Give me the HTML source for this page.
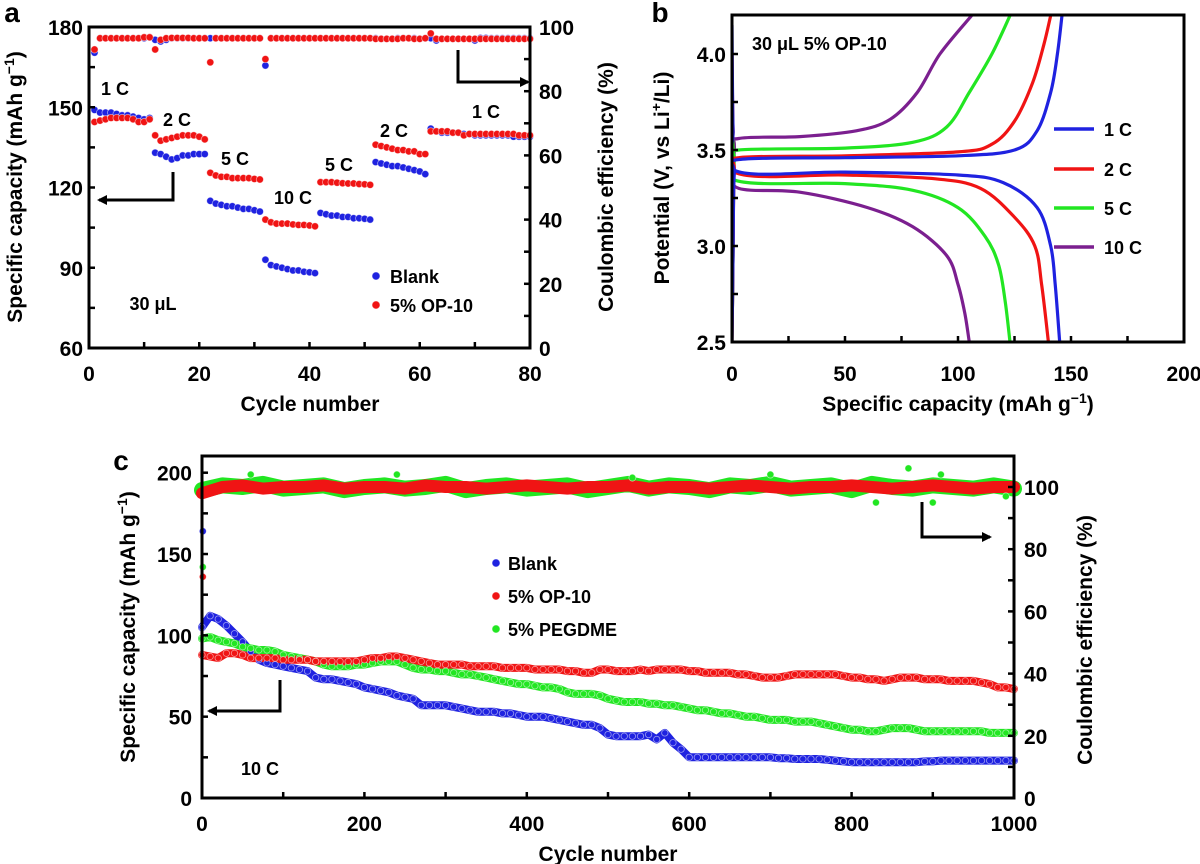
<!DOCTYPE html>
<html><head><meta charset="utf-8">
<style>
html,body{margin:0;padding:0;background:#fff;}
svg{display:block;font-family:"Liberation Sans",Arial,sans-serif;font-weight:bold;}
</style></head>
<body>
<svg id="fig" width="1200" height="864" viewBox="0 0 1200 864" xmlns="http://www.w3.org/2000/svg">
<defs>
<marker id="ah" markerWidth="10" markerHeight="10" refX="8" refY="5" orient="auto" markerUnits="userSpaceOnUse"><path d="M0,0 L10,5 L0,10 Z" fill="#000"/></marker>
</defs>
<g id="gA"></g>
<g id="gB"></g>
<g id="gC"></g>
</svg>
<script>
// ---------- Panel a data ----------
const aCycles = Array.from({length:80},(_, i)=>i+1);
const aBlankCap = [149,148,148,148,147.5,147,147,146.5,146,145.5,146,
 133,132.5,131.5,130.5,131,132,132,132.5,132.5,132.5,
 115,114,113.5,113,113,112.5,112,112,111.5,111,
 93,91,90.5,90,89.5,89,89,88.5,88.3,88,
 110.5,110,109.5,109.5,109,109,108.5,108.5,108.3,108,
 129.5,129,128.5,128,128,127.5,127,126.5,126,125,
 142,141,140.5,140.5,140.5,140.5,140,140,139.5,139.5,139.5,139.5,139.5,139.5,139.5,139,139,139,139];
const aOpCap = [144.5,145,145.5,146,146,146,146,145.5,144.5,144.5,145.5,
 139.5,137.5,138,138.5,139,139.5,139.5,139.5,139,138,
 125.5,124.5,124,124,123.5,123.5,123.5,123.5,123.2,123,
 108,107,106.5,106.5,106.5,106.2,106,106,105.8,105.5,
 122,122,122,121.8,121.6,121.5,121.5,121.3,121.2,121,
 136,135.5,135,134.5,134,134,133.5,133.5,132.5,132.5,
 141,141,141,141,140.5,140.5,139.5,140,140,140,140,140,140,140,140,140,139.5,139.5,139.5];
const aBlankCE = [92,96.5,96.5,96.5,96.5,96.5,96.5,96.5,96.5,96.5,96.8,
 96,95.5,96,96.5,96.5,96.5,96.5,96.5,96.5,96.5,
 96.5,96.5,96.5,96.5,96.5,96.5,96.5,96.5,96.5,96.5,
 88,96.5,96.5,96.5,96.5,96.5,96.5,96.5,96.5,96.5,
 96.5,96.5,96.5,96.5,96.5,96.5,96.5,96.5,96.5,96.5,
 96.5,96.3,96.3,96.3,96.5,96.5,96.5,96.5,96.3,96.5,
 96.5,95.8,96.3,96.3,96.3,96.3,96.3,96.3,95.8,96.6,96.6,96.5,96.5,96.5,96.5,96.5,96.5,96.5,96.5];
const aOpCE = [93,96.5,96.5,96.5,96.5,96.5,96.5,96.5,96.5,96.8,96.8,
 93,96,96.5,96.6,96.6,96.6,96.6,96.5,96.5,96.5,
 89,96.5,96.5,96.5,96.5,96.5,96.5,96.5,96.5,96.5,
 90,96.5,96.5,96.5,96.5,96.5,96.5,96.5,96.5,96.5,
 96.5,96.5,96.5,96.5,96.5,96.5,96.5,96.5,96.5,96.5,
 96.3,96.3,96.3,96.3,96.3,96.5,96.5,96.3,96.3,96.5,
 98,96.3,96.3,96.3,96.3,96.3,96.3,96.3,96.3,96.3,96.3,96.3,96.3,96.3,96.3,96.3,96.3,96.3,96.3];
const aXTicks=[0,20,40,60,80], aYTicks=[60,90,120,150,180], aY2Ticks=[0,20,40,60,80,100];

// ---------- Panel b data ----------
const bRates=["1 C","2 C","5 C","10 C"];
const bChargeCap=[[0,0.5,1,3,50,100,125,135,141,144,146],
                  [0,0.5,1,3,50,100,115,125,133,138,141],
                  [0,0.5,1,3,50,80,95,105,115,123],
                  [0,0.5,1,3,30,55,70,82,92,106]];
const bChargeV=[[2.5,3.0,3.38,3.45,3.46,3.47,3.5,3.6,3.8,4.0,4.2],
                [2.5,3.0,3.4,3.46,3.47,3.49,3.53,3.65,3.85,4.05,4.2],
                [2.5,3.0,3.45,3.5,3.51,3.54,3.62,3.8,4.0,4.2],
                [2.5,3.0,3.5,3.56,3.57,3.6,3.66,3.8,4.0,4.2]];
const bDisCap=[[0,0.5,2,50,100,120,135,141,143,145],
               [0,0.5,2,50,90,110,125,134,137,140],
               [0,0.5,2,50,80,100,112,118,121,123],
               [0,0.5,3,30,60,80,95,100,103,105]];
const bDisV=[[4.15,3.6,3.39,3.385,3.37,3.33,3.2,3.0,2.8,2.5],
             [4.0,3.6,3.38,3.37,3.35,3.3,3.15,3.0,2.8,2.5],
             [3.7,3.5,3.34,3.325,3.29,3.2,3.05,2.9,2.7,2.5],
             [3.6,3.4,3.3,3.28,3.2,3.1,2.95,2.8,2.65,2.5]];
const bXTicks=[0,50,100,150,200], bYTicks=[2.5,3.0,3.5,4.0];

// ---------- Panel c data (every 10 cycles, 0..1000) ----------
const cCycles = Array.from({length:101},(_, i)=>i*10);
const cBlankCap=[105,112,110,106,101,96,90,85,83,82,81,80,79,78,74,73,73,72,71,70,68,67,66,65,63,62,61,57,57,57,57,56,55,54,53,53,53,52,52,51,50,50,50,49,48,47,46,45,45,43,39,38,38,38,38,39,36,40,34,30,25,25,25,25,25,25,25,25,25,25,25,24.5,24.5,24,24,24,24,23.5,23,22.5,22,22,22,22,22,22,22,22,22,22.5,22.5,23,23,23,23,23,23,23,23,23,23];
const cOpCap=[88,87,86,89,89,88,86,86,86,86,85,85,85,85,84,84,84,84,84,84,85,86,86,87,87,86,85,84,83,82,82,82,82,81,81,81,81,80,80,80,80,79,79,79,79,78,78,77,77,79,79,78,78,78,79,78,79,79,79,79,78,78,77,77,77,77,76,76,75,74,74,74,75,76,76,76,76,76,76,75,74,74,73,73,72,73,74,74,74,73,73,73,72,72,72,72,71,70,68,68,67];
const cPegCap=[98,99,97,96,95,93,92,91,91,90,88,87,86,85,84,82,81,81,81,82,82,83,84,84,84,82,80,79,79,78,78,77,76,76,75,74,73,72,71,70,70,69,68,68,67,65,64,64,64,63,61,60,59,59,59,58,58,57,57,56,55,54,54,53,52,52,51,50,50,49,48,48,48,47,47,47,46,45,44,43,42,42,41,41,42,43,43,43,42,41,41,41,41,41,41,41,41,40,40,40,40];
const cFirst=[164,136,142]; // cycle-1 capacities: Blank, OP-10, PEGDME
const cCECycles = Array.from({length:41},(_, i)=>i*25);
const cOpCE=[98,100,100.5,99.5,100,100,100.5,99.5,100,100,99.5,100.5,100,100,99.5,100,100.5,100,99.5,100,100,100.5,99.5,100,100,99.5,100,100.5,100,99.5,100,100,100.5,100,99.5,100,100.5,100,99.5,100,100];
const cPegCE=[99,100.5,100,101,99.5,100,100.5,99,100,100.5,99.5,100,101,99,100,100.5,99.5,100,100.5,99,100,101,99.5,100.5,100,99,100.5,100,101,99.5,100,100.5,99,101,100,99.5,100.5,100,99.5,100.5,99.5];
const cBlankCE=[99,100,100,100,100,100,100,100,100,100,100,100,100,100,100,100,100,100,100,100,100,100,100,101,99,100,100,100,100,100,100,100,100,100,100,100,100,100,100,100,100];
const cPegOutX=[60,240,530,700,830,870,900,910,990];
const cPegOutY=[104,104,103,104,95,106,95,104,97];
const cXTicks=[0,200,400,600,800,1000], cYTicks=[0,50,100,150,200], cY2Ticks=[0,20,40,60,80,100];

// ---------- helpers ----------
const NS="http://www.w3.org/2000/svg";
function mk(parent,tag,attrs){const e=document.createElementNS(NS,tag);for(const k in attrs)e.setAttribute(k,attrs[k]);parent.appendChild(e);return e;}
function txt(parent,x,y,s,size,anchor,rot){const t=mk(parent,"text",{x:x,y:y,"font-size":size,"text-anchor":anchor||"middle"});if(rot)t.setAttribute("transform","rotate(-90 "+x+" "+y+")");t.textContent=s;return t;}
function lin(d0,d1,p0,p1){return v=>p0+(v-d0)*(p1-p0)/(d1-d0);}
function frame(g,L,T,R,B){const r=mk(g,"rect",{x:L,y:T,width:R-L,height:B-T,fill:"none",stroke:"#000","stroke-width":3});}
function ticksX(g,sx,from,to,step,B,len){for(let v=from;v<=to+1e-9;v+=step){const x=sx(v);mk(g,"line",{x1:x,x2:x,y1:B,y2:B-len,stroke:"#000","stroke-width":2.5});}}
function ticksY(g,sy,from,to,step,X,len){for(let v=from;v<=to+1e-9;v+=step){const y=sy(v);mk(g,"line",{x1:X,x2:X+len,y1:y,y2:y,stroke:"#000","stroke-width":2.5});}}
function dot(g,x,y,r,c,name){const d=mk(g,"circle",{cx:x,cy:y,r:r,fill:c,stroke:"rgba(255,255,255,0.55)","stroke-width":0.8});return d;}
function arrow(g,pts,name){const p=mk(g,"polyline",{points:pts.map(q=>q.join(",")).join(" "),fill:"none",stroke:"#000","stroke-width":3,"marker-end":"url(#ah)"});}
function smooth(P){ // Catmull-Rom through points
 let d="M"+P[0][0].toFixed(1)+","+P[0][1].toFixed(1);
 for(let i=0;i<P.length-1;i++){const p0=P[i-1]||P[i],p1=P[i],p2=P[i+1],p3=P[i+2]||P[i+1];
  const c1=[p1[0]+(p2[0]-p0[0])/6,p1[1]+(p2[1]-p0[1])/6],c2=[p2[0]-(p3[0]-p1[0])/6,p2[1]-(p3[1]-p1[1])/6];
  d+="C"+c1[0].toFixed(1)+","+c1[1].toFixed(1)+" "+c2[0].toFixed(1)+","+c2[1].toFixed(1)+" "+p2[0].toFixed(1)+","+p2[1].toFixed(1);}
 return d;}

const BLUE="#1f22e0",RED="#f01414",GREEN="#22e622",PURPLE="#7b1f8f";

// ---------- Panel a ----------
(function(){
 const g=document.getElementById("gA");
 const L=89,R=530,T=27,B=348;
 const sx=lin(0,80,L,R), sy=lin(60,180,B,T), sy2=lin(0,100,B,T);
 txt(g,12,22,"a",28,"middle");
 aCycles.forEach((c,i)=>{
  dot(g,sx(c),sy2(aBlankCE[i]),3.6,BLUE,'ce-blank-point');
  dot(g,sx(c),sy(aBlankCap[i]),3.6,BLUE,'capacity-blank-point');
 });
 aCycles.forEach((c,i)=>{
  dot(g,sx(c),sy2(aOpCE[i]),3.6,RED,'ce-op10-point');
  dot(g,sx(c),sy(aOpCap[i]),3.6,RED,'capacity-op10-point');
 });
 frame(g,L,T,R,B);
 ticksX(g,sx,0,80,10,B,6);
 ticksY(g,sy,60,180,15,L,6); ticksY(g,sy2,0,100,10,R-6,6);
 aXTicks.forEach(v=>txt(g,sx(v),381,v,21,"middle"));
 aYTicks.forEach(v=>txt(g,L-6,sy(v)+8,v,21,"end"));
 aY2Ticks.forEach(v=>txt(g,R+9,sy2(v)+8,v,21,"start"));
 txt(g,310,411,"Cycle number",21,"middle");
 const yt=txt(g,22,187,"",21,"middle",true);yt.innerHTML='Specific capacity (mAh g<tspan dy="-8" font-size="14">−1</tspan><tspan dy="8">)</tspan>';
 
 txt(g,613,187,"Coulombic efficiency (%)",21,"middle",true);
 [["1 C",115,95],["2 C",177,126],["5 C",235,165],["10 C",293,204],["5 C",339,171],["2 C",394,137],["1 C",486,118]].forEach(a=>txt(g,a[1],a[2],a[0],18,"middle"));
 txt(g,153,310,"30 μL",18,"middle");
 dot(g,376,276,4,BLUE,'legend-blank-marker'); txt(g,390,283,"Blank",18,"start");
 dot(g,376,305,4,RED,'legend-op10-marker'); txt(g,390,312,"5% OP-10",18,"start");
 arrow(g,[[173,172],[173,200],[99,200]],'left-axis-arrow');
 arrow(g,[[458,50],[458,82],[528,82]],'right-axis-arrow');
})();

// ---------- Panel b ----------
(function(){
 const g=document.getElementById("gB");
 const L=732,R=1184,T=15,B=342;
 const sx=lin(0,200,L,R), sy=lin(2.5,4.0,B,54);
 const cols=[BLUE,RED,GREEN,PURPLE];
 txt(g,660,22,"b",28,"middle");
 const cp=mk(g,"clipPath",{id:"clipB"});mk(cp,"rect",{x:L,y:T,width:R-L,height:B-T});
 const pg=mk(g,"g",{"clip-path":"url(#clipB)"});
 function path(xs,ys){return smooth(xs.map((x,i)=>[sx(x),sy(ys[i])]));}
 for(let k=3;k>=0;k--){
  const p1=mk(pg,"path",{d:path(bChargeCap[k],bChargeV[k]),fill:"none",stroke:cols[k],"stroke-width":3.2,"stroke-linejoin":"round"});
  
  
  const p2=mk(pg,"path",{d:path(bDisCap[k],bDisV[k]),fill:"none",stroke:cols[k],"stroke-width":3.2,"stroke-linejoin":"round"});
  
  
 }
 frame(g,L,T,R,B);
 ticksX(g,sx,0,200,25,B,6);
 ticksY(g,sy,2.5,4.0,0.25,L,6);
 bXTicks.forEach(v=>txt(g,sx(v),381,v,21,"middle"));
 bYTicks.forEach(v=>txt(g,L-6,sy(v)+8,v.toFixed(1),21,"end"));
 const xt=txt(g,958,411,"",21,"middle");xt.innerHTML='Specific capacity (mAh g<tspan dy="-8" font-size="14">−1</tspan><tspan dy="8">)</tspan>';
 
 const yt=txt(g,669,178,"",21,"middle",true);yt.innerHTML='Potential (V, vs Li<tspan dy="-8" font-size="14">+</tspan><tspan dy="8">/Li)</tspan>';
 
 txt(g,752,50,"30 μL 5% OP-10",18,"start");
 bRates.forEach((r,i)=>{const y=[129,169,208,247][i];
  const l=mk(g,"line",{x1:1054,x2:1094,y1:y,y2:y,stroke:cols[i],"stroke-width":3.5});
  
  
  txt(g,1104,y+7,r,18,"start");});
})();

// ---------- Panel c ----------
(function(){
 const g=document.getElementById("gC");
 const L=202,R=1014,T=456,B=798;
 const sx=lin(0,1000,L,R), sy=lin(0,200,B,472.7), sy2=lin(0,100,B,487);
 txt(g,121,470,"c",28,"middle");
 function band(xs,ys,s,c,w,name){const p=mk(g,"polyline",{points:xs.map((x,i)=>sx(x).toFixed(1)+","+s(ys[i]).toFixed(1)).join(" "),fill:"none",stroke:c,"stroke-width":w,"stroke-linejoin":"round","stroke-linecap":"round"});}
 // CE
 band(cCECycles,cPegCE,sy2,GREEN,16,'ce-pegdme-band');
 band(cCECycles,cBlankCE,sy2,BLUE,6,'ce-blank-band');
 band(cCECycles,cOpCE,sy2,RED,12,'ce-op10-band');
 cPegOutX.forEach((x,i)=>dot(g,sx(x),sy2(cPegOutY[i]),3.5,GREEN,'ce-pegdme-outlier'));
 // capacity
 band(cCycles,cBlankCap,sy,BLUE,8,'capacity-blank-line');
 band(cCycles,cPegCap,sy,GREEN,8,'capacity-pegdme-line');
 band(cCycles,cOpCap,sy,RED,8,'capacity-op10-line');
 cCycles.forEach((c,i)=>{dot(g,sx(c),sy(cBlankCap[i]),3.2,BLUE,'capacity-blank-point');});
 cCycles.forEach((c,i)=>{dot(g,sx(c),sy(cPegCap[i]),3.2,GREEN,'capacity-pegdme-point');});
 cCycles.forEach((c,i)=>{dot(g,sx(c),sy(cOpCap[i]),3.2,RED,'capacity-op10-point');});
 dot(g,sx(1),sy(cFirst[0]),3.5,BLUE,'first-cycle-blank');
 dot(g,sx(1),sy(cFirst[1]),3.5,RED,'first-cycle-op10');
 dot(g,sx(1),sy(cFirst[2]),3.5,GREEN,'first-cycle-pegdme');
 frame(g,L,T,R,B);
 ticksX(g,sx,0,1000,100,B,6);
 ticksY(g,sy,0,200,25,L,6); ticksY(g,sy2,0,100,10,R-6,6);
 cXTicks.forEach(v=>txt(g,sx(v),831,v,21,"middle"));
 cYTicks.forEach(v=>txt(g,L-10,sy(v)+8,v,21,"end"));
 cY2Ticks.forEach(v=>txt(g,R+10,sy2(v)+8,v,21,"start"));
 txt(g,608,861,"Cycle number",21,"middle");
 const yt=txt(g,135,627,"",21,"middle",true);yt.innerHTML='Specific capacity (mAh g<tspan dy="-8" font-size="14">−1</tspan><tspan dy="8">)</tspan>';
 
 txt(g,1092,640,"Coulombic efficiency (%)",21,"middle",true);
 txt(g,260,775,"10 C",18,"middle");
 dot(g,496,563,4,BLUE,'legend-blank-marker'); txt(g,508,570,"Blank",18,"start");
 dot(g,496,596,4,RED,'legend-op10-marker'); txt(g,508,603,"5% OP-10",18,"start");
 dot(g,496,629,4,GREEN,'legend-pegdme-marker'); txt(g,508,636,"5% PEGDME",18,"start");
 arrow(g,[[280,680],[280,711],[209,711]],'left-axis-arrow');
 arrow(g,[[922,502],[922,537],[990,537]],'right-axis-arrow');
})();
</script>
</body></html>
